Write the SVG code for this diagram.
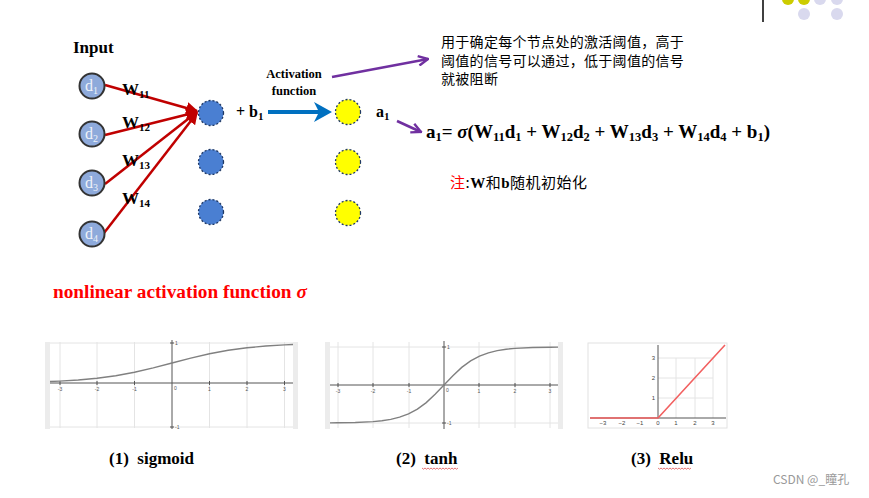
<svg xmlns="http://www.w3.org/2000/svg" width="869" height="498" viewBox="0 0 869 498">
<style>
.tb{font-family:"Liberation Serif","Times New Roman",serif;font-weight:bold;fill:#000}
.cn{font-family:"Noto Sans CJK SC","Noto Sans",sans-serif;fill:#000}
.din{fill:#8eaadb;stroke:#333;stroke-width:2}
.dtx{font-family:"Liberation Serif",serif;font-size:16px;fill:#eef2f8}
.hid{fill:#4a7fd2;stroke:#1f3864;stroke-width:1.3;stroke-dasharray:2 2}
.out{fill:#ffff00;stroke:#1f3864;stroke-width:1.3;stroke-dasharray:2 2}
.red{stroke:#c00000;stroke-width:2.5;fill:none}
.pur{stroke:#7030a0;stroke-width:2.5;fill:none}
.grid{stroke:#e4e4e4;stroke-width:1;fill:none}
.axis{stroke:#555;stroke-width:1;fill:none}
.curve{stroke:#808080;stroke-width:1.4;fill:none}
.band{fill:#ececec}
.tick{font-family:"Liberation Sans",sans-serif;font-size:5px;fill:#555}
.tick2{font-family:"Liberation Sans",sans-serif;font-size:6px;fill:#444}
.cap{font-family:"Liberation Serif",serif;font-weight:bold;font-size:17px;fill:#000}
.wavy{stroke:#e05050;stroke-width:0.8;fill:none}
</style>
<defs>
<marker id="arrRed" viewBox="0 0 10 10" refX="9" refY="5" markerWidth="12" markerHeight="12" markerUnits="userSpaceOnUse" orient="auto"><path d="M0,0 L10,5 L0,10 z" fill="#c00000"/></marker>
<marker id="arrPur" viewBox="0 0 10 10" refX="9" refY="5" markerWidth="12" markerHeight="12" markerUnits="userSpaceOnUse" orient="auto"><path d="M1,1 L9,5 L1,9" fill="none" stroke="#7030a0" stroke-width="2"/></marker>
</defs>
<rect width="869" height="498" fill="#fff"/>

<!-- corner decoration -->
<g id="corner">
<line x1="763" y1="0" x2="763" y2="22" stroke="#000" stroke-width="1.5"/>
<circle cx="788" cy="-1" r="6" fill="#cccc00"/>
<circle cx="804" cy="-1" r="6" fill="#cccc00"/>
<circle cx="820" cy="-1" r="6" fill="#d9d9ee"/>
<circle cx="837" cy="-1" r="6" fill="#d9d9ee"/>
<circle cx="804" cy="14" r="6" fill="#d9d9ee"/>
<circle cx="837" cy="14" r="6" fill="#d9d9ee"/>
</g>

<text class="tb" x="73" y="53" font-size="17">Input</text>

<g id="connectors">
<line class="red" x1="105" y1="85" x2="197" y2="111" marker-end="url(#arrRed)"/>
<line class="red" x1="105" y1="135" x2="197" y2="112" marker-end="url(#arrRed)"/>
<line class="red" x1="105" y1="184" x2="197" y2="112" marker-end="url(#arrRed)"/>
<line class="red" x1="104" y1="233" x2="197" y2="113" marker-end="url(#arrRed)"/>
<path d="M268,110 L318,110 L314,102 L332,112 L314,122 L318,114 L268,114 Z" fill="#0070c0"/>
<line class="pur" x1="332" y1="77" x2="428" y2="59" marker-end="url(#arrPur)"/>
<line class="pur" x1="397" y1="121" x2="421" y2="132" marker-end="url(#arrPur)"/>
</g>

<g id="d1"><circle class="din" cx="92" cy="86" r="12.5"/><text class="dtx" x="85" y="91">d<tspan font-size="10" dy="3">1</tspan></text></g>
<g id="d2"><circle class="din" cx="92" cy="134" r="12.5"/><text class="dtx" x="85" y="139">d<tspan font-size="10" dy="3">2</tspan></text></g>
<g id="d3"><circle class="din" cx="92" cy="183" r="12.5"/><text class="dtx" x="85" y="188">d<tspan font-size="10" dy="3">3</tspan></text></g>
<g id="d4"><circle class="din" cx="92" cy="234" r="12.5"/><text class="dtx" x="85" y="239">d<tspan font-size="10" dy="3">4</tspan></text></g>

<g id="weights">
<text class="tb" x="122" y="95" font-size="17">W<tspan font-size="11" dy="3">11</tspan></text>
<text class="tb" x="122" y="128" font-size="17">W<tspan font-size="11" dy="3">12</tspan></text>
<text class="tb" x="122" y="166" font-size="17">W<tspan font-size="11" dy="3">13</tspan></text>
<text class="tb" x="122" y="204" font-size="17">W<tspan font-size="11" dy="3">14</tspan></text>
</g>

<g id="h1"><circle class="hid" cx="211" cy="113" r="12.5"/></g>
<g id="h2"><circle class="hid" cx="211" cy="162" r="12.5"/></g>
<g id="h3"><circle class="hid" cx="211" cy="212" r="12.5"/></g>

<text class="tb" x="236" y="117" font-size="16">+ b<tspan font-size="11" dy="3">1</tspan></text>

<g id="activation">
<text class="tb" x="294" y="78" font-size="12.5" text-anchor="middle">Activation</text>
<text class="tb" x="294" y="95" font-size="12.5" text-anchor="middle">function</text>
</g>

<g id="o1"><circle class="out" cx="348" cy="112" r="12.5"/></g>
<g id="o2"><circle class="out" cx="348" cy="162" r="12.5"/></g>
<g id="o3"><circle class="out" cx="348" cy="213" r="12.5"/></g>

<text class="tb" x="376" y="117" font-size="16">a<tspan font-size="11" dy="3">1</tspan></text>

<g id="note1">
<text class="cn" x="441" y="47" font-size="14" letter-spacing="0.3">用于确定每个节点处的激活阈值，高于</text>
<text class="cn" x="441" y="65.5" font-size="14" letter-spacing="0.3">阈值的信号可以通过，低于阈值的信号</text>
<text class="cn" x="441" y="84" font-size="14" letter-spacing="0.3">就被阻断</text>
</g>

<g id="formula">
<text class="tb" x="426" y="138" font-size="19">a<tspan font-size="12.5" dy="3">1</tspan><tspan dy="-3">= </tspan><tspan font-style="italic">σ</tspan>(W<tspan font-size="12.5" dy="3">11</tspan><tspan dy="-3">d</tspan><tspan font-size="12.5" dy="3">1</tspan><tspan dy="-3"> + W</tspan><tspan font-size="12.5" dy="3">12</tspan><tspan dy="-3">d</tspan><tspan font-size="12.5" dy="3">2</tspan><tspan dy="-3"> + W</tspan><tspan font-size="12.5" dy="3">13</tspan><tspan dy="-3">d</tspan><tspan font-size="12.5" dy="3">3</tspan><tspan dy="-3"> + W</tspan><tspan font-size="12.5" dy="3">14</tspan><tspan dy="-3">d</tspan><tspan font-size="12.5" dy="3">4</tspan><tspan dy="-3"> + b</tspan><tspan font-size="12.5" dy="3">1</tspan><tspan dy="-3">)</tspan></text>
</g>

<g id="note2">
<text class="cn" x="450" y="188" font-size="15" letter-spacing="0.5"><tspan fill="#ff0000">注</tspan>:<tspan font-family="Liberation Serif,serif" font-weight="bold">W</tspan>和<tspan font-family="Liberation Serif,serif" font-weight="bold">b</tspan>随机初始化</text>
</g>

<text x="53" y="298" font-family="Liberation Serif,serif" font-weight="bold" font-size="19.3" fill="#ff0000">nonlinear activation function <tspan font-style="italic">σ</tspan></text>

<!-- sigmoid plot -->
<g id="sigmoid">
<rect class="band" x="45" y="342" width="5" height="87"/>
<rect class="band" x="293" y="342" width="5" height="87"/>
<line class="grid" x1="50" y1="343" x2="293" y2="343"/>
<line class="grid" x1="50" y1="427" x2="293" y2="427"/>
<path class="grid" d="M60,342V428M97,342V428M134.5,342V428M209.5,342V428M247,342V428M284.5,342V428"/>
<line class="axis" x1="50" y1="383" x2="293" y2="383"/>
<line class="axis" x1="172" y1="340" x2="172" y2="429"/>
<path class="axis" d="M60,381V385M97,381V385M134.5,381V385M209.5,381V385M247,381V385M284.5,381V385M170,343H174M170,427H174"/>
<text class="tick" x="60" y="391" text-anchor="middle">-3</text>
<text class="tick" x="97" y="391" text-anchor="middle">-2</text>
<text class="tick" x="134.5" y="391" text-anchor="middle">-1</text>
<text class="tick" x="174" y="390">0</text>
<text class="tick" x="209.5" y="391" text-anchor="middle">1</text>
<text class="tick" x="247" y="391" text-anchor="middle">2</text>
<text class="tick" x="284.5" y="391" text-anchor="middle">3</text>
<text class="tick" x="175" y="345">1</text>
<text class="tick" x="175" y="429">-1</text>
<polyline class="curve" points="50,381.5 59.5,381.1 78.25,380 97,378.2 115.75,375.7 134.5,372.2 153.25,367.9 172,363 190.75,358.1 209.5,353.8 228.25,350.3 247,347.8 265.75,346 284.5,344.9 293,344.5"/>
</g>

<!-- tanh plot -->
<g id="tanh">
<rect class="band" x="325" y="342" width="5" height="87"/>
<rect class="band" x="558" y="342" width="5" height="87"/>
<line class="grid" x1="330" y1="347" x2="558" y2="347"/>
<line class="grid" x1="330" y1="423" x2="558" y2="423"/>
<path class="grid" d="M338,342V428M373,342V428M409,342V428M479,342V428M515,342V428M550,342V428"/>
<line class="axis" x1="330" y1="385" x2="558" y2="385"/>
<line class="axis" x1="444" y1="341" x2="444" y2="429"/>
<path class="axis" d="M338,383V387M373,383V387M409,383V387M479,383V387M515,383V387M550,383V387M442,347H446M442,423H446"/>
<text class="tick" x="338" y="393" text-anchor="middle">-3</text>
<text class="tick" x="373" y="393" text-anchor="middle">-2</text>
<text class="tick" x="409" y="393" text-anchor="middle">-1</text>
<text class="tick" x="446" y="392">0</text>
<text class="tick" x="479" y="393" text-anchor="middle">1</text>
<text class="tick" x="515" y="393" text-anchor="middle">2</text>
<text class="tick" x="550" y="393" text-anchor="middle">3</text>
<text class="tick" x="447" y="349">1</text>
<text class="tick" x="447" y="425">-1</text>
<polyline class="curve" points="330,422.9 337.5,422.8 355.25,422.5 373,421.6 381.9,420.8 390.75,419.4 399.6,417.2 408.5,413.9 417.4,409.1 426.25,402.6 435.1,394.3 444,385 452.9,375.7 461.75,367.4 470.6,360.9 479.5,356.1 488.4,352.8 497.25,350.6 506.1,349.2 515,348.4 532.75,347.5 550.5,347.2 558,347.1"/>
</g>

<!-- relu plot -->
<g id="relu">
<rect x="588" y="343" width="139" height="85" fill="none" stroke="#e2e2e2" stroke-width="1"/>
<path class="grid" d="M658,358H713M658,378H713M658,398H713M676,358V418M695,358V418M713,358V418"/>
<line class="axis" x1="590" y1="418" x2="726" y2="418" stroke="#888"/>
<line class="axis" x1="658" y1="345" x2="658" y2="418" stroke="#888"/>
<text class="tick2" x="603" y="425" text-anchor="middle">−3</text>
<text class="tick2" x="622" y="425" text-anchor="middle">−2</text>
<text class="tick2" x="640" y="425" text-anchor="middle">−1</text>
<text class="tick2" x="658" y="425" text-anchor="middle">0</text>
<text class="tick2" x="676" y="425" text-anchor="middle">1</text>
<text class="tick2" x="695" y="425" text-anchor="middle">2</text>
<text class="tick2" x="713" y="425" text-anchor="middle">3</text>
<text class="tick2" x="655" y="400" text-anchor="end">1</text>
<text class="tick2" x="655" y="380" text-anchor="end">2</text>
<text class="tick2" x="655" y="360" text-anchor="end">3</text>
<polyline points="590,418 658,418 725,345" fill="none" stroke="#f26060" stroke-width="1.6"/>
</g>

<g id="captions">
<text class="cap" x="109" y="464" xml:space="preserve">(1)  sigmoid</text>
<text class="cap" x="396" y="464" xml:space="preserve">(2)  tanh</text>
<text class="cap" x="631" y="464" xml:space="preserve">(3)  Relu</text>
<path class="wavy" d="M422,468 l1.5,1.2 l1.5,-1.2 l1.5,1.2 l1.5,-1.2 l1.5,1.2 l1.5,-1.2 l1.5,1.2 l1.5,-1.2 l1.5,1.2 l1.5,-1.2 l1.5,1.2 l1.5,-1.2 l1.5,1.2 l1.5,-1.2 l1.5,1.2 l1.5,-1.2 l1.5,1.2 l1.5,-1.2 l1.5,1.2 l1.5,-1.2 l1.5,1.2 l1.5,-1.2 l1.5,1.2 l1.5,-1.2"/>
<path class="wavy" d="M658,468 l1.5,1.2 l1.5,-1.2 l1.5,1.2 l1.5,-1.2 l1.5,1.2 l1.5,-1.2 l1.5,1.2 l1.5,-1.2 l1.5,1.2 l1.5,-1.2 l1.5,1.2 l1.5,-1.2 l1.5,1.2 l1.5,-1.2 l1.5,1.2 l1.5,-1.2 l1.5,1.2 l1.5,-1.2 l1.5,1.2 l1.5,-1.2 l1.5,1.2 l1.5,-1.2"/>
</g>

<text x="773" y="484" font-family="'Noto Sans CJK SC','Noto Sans',sans-serif" font-size="12" fill="#999">CSDN @_瞳孔</text>
</svg>
